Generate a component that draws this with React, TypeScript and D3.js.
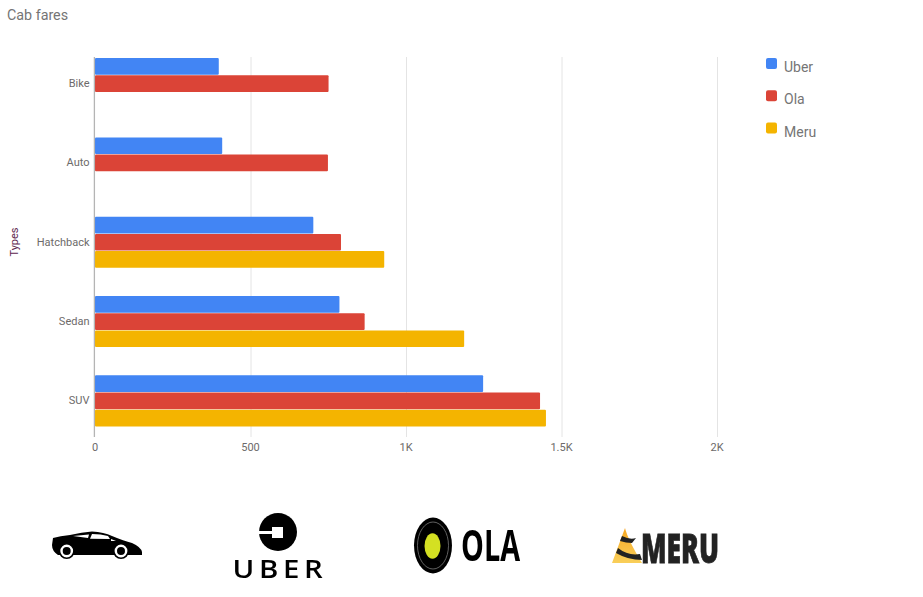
import { useEffect, useRef } from "react";
import * as d3 from "d3";

const categories = ["Bike", "Auto", "Hatchback", "Sedan", "SUV"];
const seriesNames = ["Uber", "Ola", "Meru"];
const uberFares = [398, 409, 702, 786, 1248];
const olaFares = [751, 749, 791, 867, 1431];
const meruFares = [null, null, 930, 1187, 1450];
const seriesColors = ["#4285f4", "#db4437", "#f4b400"];
const xTicks = [0, 500, 1000, 1500, 2000];
const xTickLabels = ["0", "500", "1K", "1.5K", "2K"];

const FONT = "Roboto, sans-serif";

// The logo strip under the chart, traced by hand
function Logos() {
  return (
    <g filter="url(#soft)">
      <defs>
        <filter id="soft" x="0" y="0" width="100%" height="100%">
          <feGaussianBlur stdDeviation="0.35" />
        </filter>
        <linearGradient id="meruFill" x1="0" y1="0" x2="0" y2="1">
          <stop offset="0" stopColor="#f7a823" />
          <stop offset="1" stopColor="#f9cf5a" />
        </linearGradient>
      </defs>

      {/* car */}
      <path
        d="M53 538 Q60 536 70 535 Q82 532 92 531.5 Q104 532 112 536 Q124 541 132 543 Q141 547 142 552 L142 555 L128 555 L114 555 L74 555 L58 555 Q52 551 52 545 Z"
        fill="#000"
      />
      <path d="M73 536 Q81 535 89 534.5 L88 538 Z" fill="#fff" />
      <path d="M92 534 Q101 534 108 536 L110 539 L90 538.7 Z" fill="#fff" />
      <path d="M111 539 L116 541 L111 541 Z" fill="#fff" />
      <circle cx="66.7" cy="551" r="8" fill="#000" />
      <circle cx="66.7" cy="551" r="5.2" fill="none" stroke="#fff" strokeWidth="2.4" />
      <circle cx="121" cy="551" r="8" fill="#000" />
      <circle cx="121" cy="551" r="5.2" fill="none" stroke="#fff" strokeWidth="2.4" />

      {/* uber */}
      <circle cx="278" cy="532" r="19" fill="#000" />
      <path d="M259 531 H272 V527 H283 V538 H272 V534 H259 Z" fill="#fff" />
      <text x="232.5" y="578" fontFamily="'Open Sans', sans-serif" fontSize="25" fontWeight="600" fill="#000" textLength="95" lengthAdjust="spacingAndGlyphs" letterSpacing="4">
        UBER
      </text>

      {/* ola */}
      <ellipse cx="433" cy="545.5" rx="19" ry="28" fill="#000" />
      <ellipse cx="433" cy="545.5" rx="15.5" ry="23.5" fill="none" stroke="#777" strokeWidth="0.8" />
      <ellipse cx="432.5" cy="546" rx="8" ry="12.7" fill="#d4e021" />
      <text x="461" y="561" fontFamily="'Open Sans', sans-serif" fontSize="43" fontWeight="700" fill="#000" textLength="59" lengthAdjust="spacingAndGlyphs">
        OLA
      </text>

      {/* meru */}
      <path d="M612 563 L625 528 Q628 540 642 563 Z" fill="url(#meruFill)" />
      <path d="M622 536 Q630 540 636 538 L632 543 Q626 543 620 541 Z" fill="#222" />
      <path d="M618 548 Q628 556 640 554 L642 560 Q628 560 616 553 Z" fill="#222" />
      <text x="641" y="563" fontFamily="'Open Sans', sans-serif" fontSize="40" fontWeight="800" fill="#222" stroke="#222" strokeWidth="0.8" textLength="78" lengthAdjust="spacingAndGlyphs">
        MERU
      </text>
    </g>
  );
}

export default function App() {
  const plotRef = useRef<SVGGElement>(null);

  useEffect(() => {
    if (!plotRef.current) return;
    const g = d3.select(plotRef.current);
    g.selectAll("*").remove();

    const x = d3.scaleLinear().domain([0, 2000]).range([95, 717]);
    const y = d3
      .scaleBand<string>()
      .domain(categories)
      .range([44, 440.5])
      .paddingInner(0.356)
      .paddingOuter(0.178);
    const inner = d3.scaleBand<string>().domain(seriesNames).range([0, y.bandwidth()]).paddingInner(0.03);
    const color = d3.scaleOrdinal<string, string>().domain(seriesNames).range(seriesColors);
    const allSeries = [uberFares, olaFares, meruFares];

    // Grid lines
    g.append("g")
      .selectAll("line")
      .data(xTicks.slice(1))
      .join("line")
      .attr("x1", (d) => x(d) + 0.5)
      .attr("x2", (d) => x(d) + 0.5)
      .attr("y1", 57)
      .attr("y2", 437)
      .attr("stroke", "#e4e4e4");

    // Bars
    seriesNames.forEach((name, i) => {
      g.append("g")
        .selectAll("rect")
        .data(categories.map((c, j) => ({ c, v: allSeries[i][j] })).filter((d) => d.v != null))
        .join("rect")
        .attr("x", x(0))
        .attr("y", (d) => (y(d.c) ?? 0) + (inner(name) ?? 0))
        .attr("width", (d) => x(d.v as number) - x(0))
        .attr("height", inner.bandwidth())
        .attr("rx", 1)
        .attr("fill", color(name));
    });

    // Baseline
    g.append("line")
      .attr("x1", x(0) - 0.6)
      .attr("x2", x(0) - 0.6)
      .attr("y1", 57)
      .attr("y2", 437)
      .attr("stroke", "#b4b4b4")
      .attr("stroke-width", 1.3);

    // Axes
    const bottom = g
      .append("g")
      .attr("transform", "translate(0,441)")
      .call(
        d3
          .axisBottom(x)
          .tickValues(xTicks)
          .tickSize(0)
          .tickPadding(0)
          .offset(0)
          .tickFormat((_, i) => xTickLabels[i])
      );
    const left = g
      .append("g")
      .attr("transform", "translate(89.5,0)")
      .call(d3.axisLeft(y).tickSize(0).tickPadding(0));
    [bottom, left].forEach((a) => {
      a.select(".domain").remove();
      a.selectAll("text")
        .attr("font-family", FONT)
        .attr("font-size", 11)
        .attr("fill", "#6d6a6a");
    });
    bottom.selectAll("text").attr("dy", "0.95em");

    // Axis title
    g.append("text")
      .attr("transform", "translate(18,242) rotate(-90)")
      .attr("text-anchor", "middle")
      .attr("font-family", FONT)
      .attr("font-size", 11)
      .attr("fill", "#5e2750")
      .text("Types");

    // Legend
    const legendY = d3.scalePoint<string>().domain(seriesNames).range([64, 128.5]);
    const legend = g
      .append("g")
      .selectAll("g")
      .data(seriesNames)
      .join("g")
      .attr("transform", (d) => `translate(766,${legendY(d)})`);
    legend
      .append("rect")
      .attr("y", -6)
      .attr("width", 11)
      .attr("height", 11)
      .attr("rx", 2)
      .attr("fill", (d) => color(d));
    legend
      .append("text")
      .attr("x", 18)
      .attr("y", 8)
      .attr("font-family", FONT)
      .attr("font-size", 14)
      .attr("fill", "#757575")
      .text((d) => d);
  }, []);

  return (
    <svg width={923} height={597} style={{ position: "absolute", left: 0, top: 0, background: "#fff" }}>
      <text x={7} y={20} fontFamily={FONT} fontSize={14.3} fill="#757575">
        Cab fares
      </text>
      <g ref={plotRef} />
      <Logos />
    </svg>
  );
}
